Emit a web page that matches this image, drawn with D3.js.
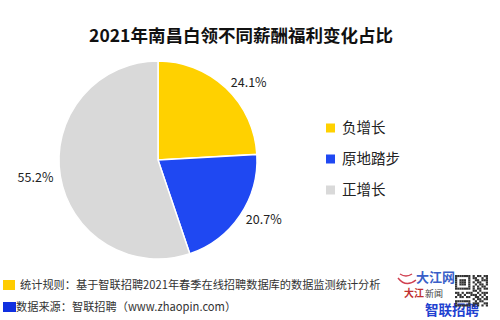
<!DOCTYPE html>
<html>
<head>
<meta charset="utf-8">
<script src="https://cdn.jsdelivr.net/npm/d3@7"></script>
<style>
  body { margin: 0; background: #fff; }
  svg { font-family: "Noto Sans CJK SC", "Noto Sans", sans-serif; }
</style>
</head>
<body>
<svg id="chart"></svg>
<script>
const categories = ['负增长', '原地踏步', '正增长'];
const values = [24.1, 20.7, 55.2];
const colors = ['#FFD100', '#1F48F2', '#D9D9D9'];
const footnotes = [
  '统计规则：基于智联招聘2021年春季在线招聘数据库的数据监测统计分析',
  '数据来源：智联招聘（www.zhaopin.com）'
];
const footColors = ['#FFCC00', '#1030E0'];

const w = 500, h = 320;
const cx = 158, cy = 160, r = 99;

const svg = d3.select('#chart')
  .attr('width', w)
  .attr('height', h);

svg.append('rect').attr('width', w).attr('height', h).attr('fill', '#fff');

// title
svg.append('text')
  .attr('x', 241)
  .attr('y', 42)
  .attr('text-anchor', 'middle')
  .attr('font-size', 17.5)
  .attr('font-weight', 'bold')
  .attr('fill', '#111')
  .text('2021年南昌白领不同薪酬福利变化占比');

const pie = d3.pie().sort(null).value(d => d);
const arcs = pie(values);
const arc = d3.arc().innerRadius(0).outerRadius(r);

const g = svg.append('g').attr('transform', `translate(${cx},${cy})`);

g.selectAll('path')
  .data(arcs)
  .enter()
  .append('path')
  .attr('d', arc)
  .attr('fill', (d, i) => colors[i])
  .attr('stroke', '#fff')
  .attr('stroke-width', 1.5);

// labels outside each slice
const labelR = 106;
g.selectAll('text.lbl')
  .data(arcs)
  .enter()
  .append('text')
  .attr('class', 'lbl')
  .each(function(d) {
    const a = (d.startAngle + d.endAngle) / 2;
    const x = labelR * Math.sin(a);
    const y = -labelR * Math.cos(a);
    d3.select(this)
      .attr('x', x)
      .attr('y', y)
      .attr('dy', '0.35em')
      .attr('text-anchor', x >= 0 ? 'start' : 'end');
  })
  .attr('font-size', 12.5)
  .attr('fill', '#222')
  .text(d => d.value.toFixed(1) + '%');

// legend
const legend = svg.append('g').attr('transform', 'translate(326,0)');
const ly = d3.scalePoint().domain(categories).range([128, 190]);

legend.selectAll('rect')
  .data(categories)
  .enter()
  .append('rect')
  .attr('x', 0)
  .attr('y', d => ly(d) - 4.5)
  .attr('width', 9)
  .attr('height', 9)
  .attr('fill', (d, i) => colors[i]);

legend.selectAll('text')
  .data(categories)
  .enter()
  .append('text')
  .attr('x', 16)
  .attr('y', d => ly(d))
  .attr('dy', '0.36em')
  .attr('font-size', 14.5)
  .attr('fill', '#222')
  .text(d => d);

// footnotes
const foot = svg.append('g');
footnotes.forEach((t, i) => {
  const y = 285 + i * 22;
  foot.append('rect')
    .attr('x', 3)
    .attr('y', y - 5)
    .attr('width', i === 0 ? 12 : 13)
    .attr('height', 10)
    .attr('fill', footColors[i]);
  foot.append('text')
    .attr('x', i === 0 ? 20 : 16)
    .attr('y', y)
    .attr('dy', '0.36em')
    .attr('font-size', 11.2)
    .attr('fill', '#333')
    .text(t);
});

// watermark logo block
const logo = svg.append('g');
logo.append('text').attr('x', 416).attr('y', 282)
  .attr('font-size', 13).attr('font-weight', 'bold').attr('fill', '#3a5fc8')
  .text('大江网');
logo.append('path')
  .attr('d', 'M398,278 q8,10 18,2 M400,274 q6,4 12,0')
  .attr('stroke', '#d04050').attr('fill', 'none').attr('stroke-width', 1.5);
logo.append('text').attr('x', 404).attr('y', 297)
  .attr('font-size', 10).attr('fill', '#c03030').attr('font-weight', 'bold')
  .text('大江');
logo.append('text').attr('x', 425).attr('y', 297)
  .attr('font-size', 9).attr('fill', '#444')
  .text('新闻');
logo.append('text').attr('x', 425).attr('y', 315)
  .attr('font-size', 13.5).attr('font-weight', 'bold').attr('fill', '#2040d0')
  .text('智联招聘');

// QR-like block
const qr = logo.append('g').attr('transform', 'translate(455,275)');
const cells = d3.range(0, 15);
const pattern = [
  '111111101011011','100000101100101','101110100110111','101110101011001','101110100101101',
  '100000101010110','111111101011011','000000001101000','110101110010111','011010011101010',
  '101101100110101','000000001011011','111111100101100','100000101110011','111111101010101'
];
cells.forEach(rw => cells.forEach(c => {
  if (pattern[rw][c] === '1') {
    qr.append('rect').attr('x', c * 2.2).attr('y', rw * 2.1)
      .attr('width', 2.2).attr('height', 2.1).attr('fill', '#333');
  }
}));
</script>
</body>
</html>
